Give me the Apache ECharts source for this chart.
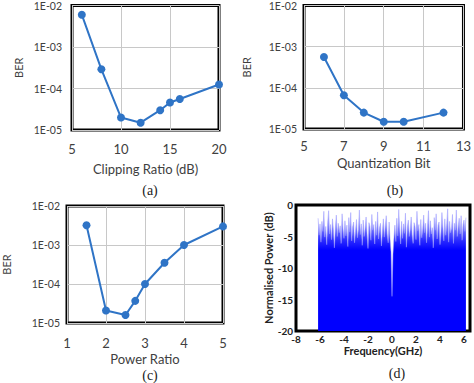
<!DOCTYPE html>
<html><head><meta charset="utf-8">
<script src="https://cdn.jsdelivr.net/npm/echarts@6/dist/echarts.min.js"></script>
<style>html,body{margin:0;padding:0;background:#fff}#c{width:474px;height:383px}</style>
</head><body><div id="c"></div>
<script>
// (a) BER vs clipping ratio
const clipX = [6, 8, 10, 12, 14, 15, 16, 20];
const clipBER = [6e-3, 2.9e-4, 2e-5, 1.5e-5, 3e-5, 4.6e-5, 5.6e-5, 1.25e-4];
// (b) BER vs quantization bit
const quantX = [6, 7, 8, 9, 10, 12];
const quantBER = [5.6e-4, 6.6e-5, 2.5e-5, 1.5e-5, 1.5e-5, 2.5e-5];
// (c) BER vs power ratio
const powerX = [1.5, 2, 2.5, 2.75, 3, 3.5, 4, 5];
const powerBER = [3.2e-3, 2.1e-5, 1.6e-5, 3.7e-5, 1e-4, 3.5e-4, 1e-3, 3e-3];
// (d) spectrum, sampled from -6.16 GHz in 0.08 GHz steps
const specStart = -6.16, specStep = 0.08;
const specPower = [
-2.1,-4.8,-3.0,-5.9,-2.6,-4.2,-1.0,-5.1,-3.4,-6.3,
-2.8,-0.9,-4.6,-3.1,-5.5,-2.2,-4.0,-6.8,-3.6,-1.6,
-5.0,-2.9,-4.4,-3.3,-6.1,-1.4,-3.8,-5.3,-2.5,-4.9,
-3.2,-6.6,-2.0,-4.3,-1.2,-5.7,-3.5,-2.7,-6.0,-4.1,
-2.3,-5.2,-3.9,-0.8,-4.7,-3.0,-6.4,-2.4,-5.0,-3.7,
-1.9,-4.5,-6.9,-2.8,-3.4,-5.6,-1.5,-4.0,-3.1,-6.2,
-2.6,-4.8,-1.1,-5.4,-3.6,-2.9,-6.5,-4.2,-2.2,-5.1,
-3.3,-1.7,-4.6,-6.0,-2.7,-5.5,-7.5,
-14.5,
-7.8,-5.3,-3.2,-5.8,-2.1,-4.9,-0.7,-3.7,-6.2,-2.6,
-5.3,-3.0,-4.5,-1.3,-6.7,-3.5,-2.4,-5.0,-3.9,-1.9,
-4.7,-6.1,-2.8,-3.4,-5.5,-1.0,-4.1,-3.1,-6.4,-2.3,
-5.2,-3.8,-1.6,-4.4,-2.9,-6.0,-3.3,-0.9,-5.1,-2.5,
-4.6,-3.6,-6.8,-2.0,-4.0,-1.4,-5.4,-3.2,-2.7,-6.3,
-4.2,-1.2,-3.5,-5.7,-2.2,-4.8,-3.0,-0.6,-5.9,-2.6,
-4.4,-3.7,-1.5,-6.1,-2.9,-4.0,-0.8,-5.0,-3.3,-2.1,
-4.6,-1.7,-5.6,-3.1,-2.4,-4.2,-2.0
];
const berTicks = ['1E-05', '1E-04', '1E-03', '1E-02'];

const FONT = 'Lato';
const LINE = '#2f74c6';
const GRIDC = '#c8c8c8';

function pairs(xs, ys) { return xs.map((x, i) => [x, ys[i]]); }
const specData = specPower.map((v, i) => [+(specStart + i * specStep).toFixed(2), v]);

function berY(idx, gap) {
  return {
    type: 'log', logBase: 10, gridIndex: idx, min: 1e-5, max: 1e-2,
    name: 'BER', nameLocation: 'middle', nameGap: gap, nameRotate: 90,
    nameTextStyle: { fontFamily: FONT, fontSize: 11, color: '#404040' },
    axisLine: { show: false }, axisTick: { show: false },
    splitLine: { show: true, lineStyle: { color: GRIDC, width: 1 } },
    minorSplitLine: { show: false },
    axisLabel: {
      fontFamily: FONT, fontSize: 10.5, color: '#404040', margin: idx === 0 ? 10 : 7,
      formatter: v => { const e = Math.round(Math.log10(v)); return berTicks[e + 5] || ''; }
    }
  };
}
function valX(idx, min, max, interval, name, gap, margin) {
  return {
    type: 'value', gridIndex: idx, min, max, interval,
    name, nameLocation: 'middle', nameGap: gap,
    nameTextStyle: { fontFamily: FONT, fontSize: 13, lineHeight: 13, color: '#404040' },
    axisLine: { show: false }, axisTick: { show: false },
    splitLine: { show: true, lineStyle: { color: GRIDC, width: 1 } },
    axisLabel: { fontFamily: FONT, fontSize: 13, lineHeight: 13, color: '#404040', margin }
  };
}
function berSeries(idx, data) {
  return {
    type: 'line', xAxisIndex: idx, yAxisIndex: idx, data,
    symbol: 'circle', symbolSize: 8,
    lineStyle: { color: LINE, width: 2 }, itemStyle: { color: LINE },
    silent: true, animation: false
  };
}
const border = { show: true, borderColor: '#000', borderWidth: 3, backgroundColor: 'transparent' };
function caption(text, x, y) {
  return { type: 'text', x, y, style: { text, font: '14px "Liberation Serif"', fill: '#222', align: 'center', verticalAlign: 'middle' } };
}

const chart = echarts.init(document.getElementById('c'), null, { renderer: 'svg' });
chart.setOption({
  animation: false,
  grid: [
    Object.assign({ left: 72, top: 5, width: 147, height: 125 }, border),
    Object.assign({ left: 304, top: 5, width: 163, height: 124 }, border),
    Object.assign({ left: 63, top: 206, width: 160, height: 117 }, border),
    Object.assign({ left: 296, top: 205, width: 174, height: 126 }, border)
  ],
  xAxis: [
    valX(0, 5, 20, 5, 'Clipping Ratio (dB)', 32, 12),
    valX(1, 5, 13, 2, 'Quantization Bit', 27, 10),
    valX(2, 1, 5, 1, 'Power Ratio', 29, 13),
    {
      type: 'value', gridIndex: 3, min: -8, max: 6.5, interval: 2,
      name: 'Frequency(GHz)', nameLocation: 'middle', nameGap: 14,
      nameTextStyle: { fontFamily: FONT, fontSize: 11, lineHeight: 11, fontWeight: 'bold', color: '#222' },
      axisLine: { show: false }, axisTick: { show: false }, splitLine: { show: false },
      axisLabel: { fontFamily: FONT, fontSize: 10, lineHeight: 10, fontWeight: 'bold', color: '#222', margin: 3,
        formatter: v => (Math.abs(v % 2) < 1e-9 ? String(v) : '') }
    }
  ],
  yAxis: [
    berY(0, 48), berY(1, 52), berY(2, 55),
    {
      type: 'value', gridIndex: 3, min: -20, max: 0, interval: 5,
      name: 'Normalised Power (dB)', nameLocation: 'middle', nameGap: 12, nameRotate: 90,
      nameTextStyle: { fontFamily: FONT, fontSize: 11, fontWeight: 'bold', color: '#222' },
      axisLine: { show: false }, axisTick: { show: false }, splitLine: { show: false },
      axisLabel: { fontFamily: FONT, fontSize: 10, fontWeight: 'bold', color: '#222', margin: 3 }
    }
  ],
  series: [
    berSeries(0, pairs(clipX, clipBER)),
    berSeries(1, pairs(quantX, quantBER)),
    berSeries(2, pairs(powerX, powerBER)),
    {
      type: 'line', xAxisIndex: 3, yAxisIndex: 3, data: specData,
      symbol: 'none', silent: true, animation: false,
      lineStyle: { color: '#9a9aff', width: 0.5 },
      areaStyle: {
        opacity: 1, origin: 'start',
        color: new echarts.graphic.LinearGradient(0, 0, 0, 1, [
          { offset: 0, color: '#d6d6ff' },
          { offset: 0.12, color: '#9090ff' },
          { offset: 0.26, color: '#2a2aff' },
          { offset: 0.34, color: '#0000ff' },
          { offset: 1, color: '#0000ff' }
        ])
      }
    }
  ],
  graphic: [
    caption('(a)', 150, 190),
    caption('(b)', 395, 190),
    caption('(c)', 150, 375),
    caption('(d)', 397, 373)
  ]
});
</script></body></html>
